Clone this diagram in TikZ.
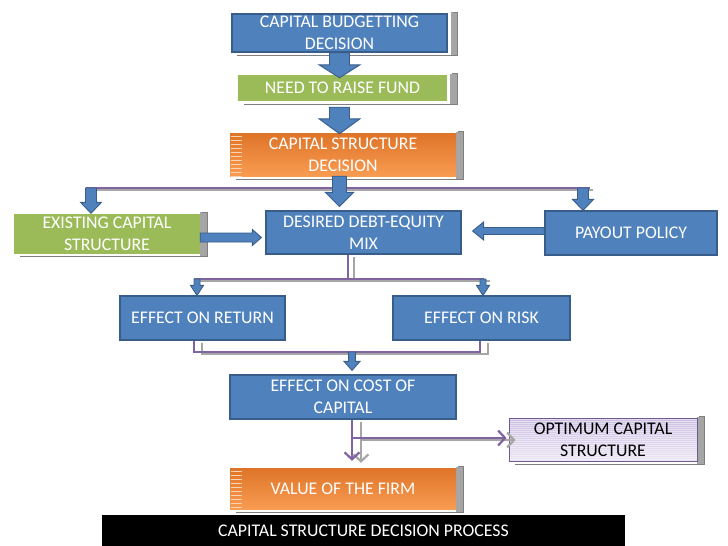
\documentclass[tikz,border=0pt]{standalone}
\usepackage{fontspec}
\setmainfont{Carlito}
\usetikzlibrary{arrows.meta,calc}
\pgfdeclarelayer{bg}
\pgfsetlayers{bg,main}
\definecolor{bfill}{HTML}{4F81BD}
\definecolor{bdraw}{HTML}{385D8A}
\definecolor{gfill}{HTML}{9BBB59}
\definecolor{otop}{HTML}{DE7428}
\definecolor{obot}{HTML}{F89C52}
\definecolor{lav}{HTML}{CCBFE3}
\definecolor{lavdraw}{HTML}{6E5A8C}
\definecolor{pline}{HTML}{8064A2}
\definecolor{gline}{HTML}{A6A6A6}
\definecolor{shfill}{HTML}{A5A5A5}
\definecolor{shdraw}{HTML}{7F7F7F}
\tikzset{
  box/.style={rectangle, inner sep=2pt, align=center, text=white,
    font=\fontsize{17.8}{22}\selectfont},
  bluebox/.style={box, fill=bfill, draw=bdraw, line width=1.2pt},
  greenbox/.style={box, fill=gfill},
  orangebox/.style={box, top color=otop, bottom color=obot,
    path picture={\foreach \k in {1,...,11}{\draw[obot!45!white, line width=0.9pt]
      ($(path picture bounding box.north west)+(0.5,\k*4-1)$) -- ++(11,0);}}},
  lavbox/.style={box, text=black, top color=lav, bottom color=lav!40!white,
    draw=lavdraw, line width=0.8pt,
    path picture={\foreach \k in {0,...,22}{\draw[white, opacity=.45, line width=.8pt]
      ($(path picture bounding box.north west)+(0,\k*2+1)$) -- ++(200,0);}}},
  banner/.style={box, fill=black},
  blkarrow/.style={fill=bfill, draw=bdraw, line width=0.9pt},
  purl/.style={draw=pline, line width=2.2pt},
  grayl/.style={draw=gline, line width=2.2pt},
  vtip/.style={-{Straight Barb[length=7pt,width=15pt,line width=2.2pt]}}
}
% block arrow pointing down: #1 start, #2 tip (y used), #3 half shaft, #4 half head, #5 head length
\newcommand\blkdown[5]{\filldraw[blkarrow] let \p1=#1, \p2=#2 in
  ({\x1-#3},{\y1}) -- ({\x1-#3},{\y2+#5}) -- ({\x1-#4},{\y2+#5}) -- ({\x1},{\y2}) --
  ({\x1+#4},{\y2+#5}) -- ({\x1+#3},{\y2+#5}) -- ({\x1+#3},{\y1}) -- cycle;}
% horizontal block arrow: #5 signed head length (positive = to the right)
\newcommand\blkh[5]{\filldraw[blkarrow] let \p1=#1, \p2=#2 in
  ({\x1},{\y1+#3}) -- ({\x2-(#5)},{\y1+#3}) -- ({\x2-(#5)},{\y1+#4}) -- ({\x2},{\y1}) --
  ({\x2-(#5)},{\y1-#4}) -- ({\x2-(#5)},{\y1-#3}) -- ({\x1},{\y1-#3}) -- cycle;}
% purple line with grey shadow line: #1 xshift, #2 yshift, #3 options, #4 path
\newcommand\duoline[4]{\draw[grayl, #3, transform canvas={xshift=#1,yshift=#2}] #4;
  \draw[purl, #3] #4;}
% grey 3d shadow at right/bottom of a box: #1 gap, #2 node
\newcommand\boxshadow[2]{%
  \fill[shfill] ([xshift=#1,yshift=1pt]#2.north east) rectangle ([xshift=#1+7pt,yshift=-3pt]#2.south east);
  \draw[shdraw, line width=0.9pt] ([xshift=6pt,yshift=-3pt]#2.south west) -- ([xshift=#1+7pt,yshift=-3pt]#2.south east)
    -- ([xshift=#1+7pt,yshift=1pt]#2.north east) -- ([xshift=#1+2pt,yshift=1pt]#2.north east);}
\begin{document}
\begin{tikzpicture}[x=1pt,y=-1pt]
\useasboundingbox (0,0) rectangle (728,546);

% nodes
\node[bluebox, minimum width=215, minimum height=38] (cbd) at (339.5,33) {CAPITAL BUDGETTING\\DECISION};
\node[greenbox, minimum width=209, minimum height=26] (nrf) at (342.5,88) {NEED TO RAISE FUND};
\node[orangebox, minimum width=226, minimum height=43] (csd) at (343,154.5) {CAPITAL STRUCTURE\\DECISION};
\node[greenbox, minimum width=186, minimum height=40] (ecs) at (107,233.5) {EXISTING CAPITAL\\STRUCTURE};
\node[bluebox, minimum width=195, minimum height=43] (dde) at (363.5,232.5) {DESIRED DEBT-EQUITY\\MIX};
\node[bluebox, minimum width=172, minimum height=44] (pp) at (631,233) {PAYOUT POLICY};
\node[bluebox, minimum width=165, minimum height=44] (eor) at (202.5,318) {EFFECT ON RETURN};
\node[bluebox, minimum width=177, minimum height=44] (erisk) at (481.5,318) {EFFECT ON RISK};
\node[bluebox, minimum width=226, minimum height=44] (ecc) at (343,397) {EFFECT ON COST OF\\CAPITAL};
\node[lavbox, minimum width=188, minimum height=43] (ocs) at (603,439.5) {OPTIMUM CAPITAL\\STRUCTURE};
\node[orangebox, minimum width=226, minimum height=41] (vof) at (343,488.5) {VALUE OF THE FIRM};
\node[banner, minimum width=523, minimum height=31] (ban) at (363.5,530.5) {CAPITAL STRUCTURE DECISION PROCESS};

\begin{pgfonlayer}{bg}
\boxshadow{3pt}{cbd}
\boxshadow{3pt}{nrf}
\boxshadow{0pt}{csd}
\boxshadow{0pt}{ecs}
\boxshadow{0pt}{ocs}
\boxshadow{0pt}{vof}
\end{pgfonlayer}

% junction coordinates
\coordinate (splitL) at (91,188);
\coordinate (splitR) at (583,188);
\coordinate (a2) at ($(nrf.south -| cbd.south)+(0,6)$);
\coordinate (a3) at (csd.south -| cbd.south);
\coordinate (ddout) at ([xshift=-15.5pt]dde.south);
\coordinate (jl) at (197,279);
\coordinate (jr) at (483,279);
\coordinate (rl) at ([xshift=-8.5pt]eor.south);
\coordinate (rr) at ([xshift=-1.5pt]erisk.south);
\coordinate (mid) at (352,352);
\coordinate (cout) at ([xshift=9pt]ecc.south);
\coordinate (cbr) at (352,438);

% purple / grey connector lines
\duoline{3pt}{-2pt}{}{([xshift=-5pt]splitL) -- ([xshift=7pt]splitR)}
\duoline{6pt}{-2pt}{}{(ddout) -- (ddout |- jl) (jl) ++(-3,0) -- ([xshift=1pt]jr)}
\duoline{8pt}{-2pt}{}{(rl) -- (rl |- mid) -- (rr |- mid) -- (rr)}
\duoline{9pt}{-2pt}{vtip}{(cout) -- ([yshift=7pt]vof.north -| cout)}
\duoline{9pt}{-2pt}{vtip}{(cbr) -- ([xshift=-2pt]ocs.west |- cbr)}

% block arrows
\blkdown{(cbd.south)}{([yshift=-3pt]nrf.north)}{10pt}{20.5pt}{13pt}
\blkdown{(a2)}{([yshift=-1pt]csd.north)}{10pt}{20.5pt}{15pt}
\blkdown{(a3)}{([yshift=4pt]dde.north)}{7pt}{14pt}{14pt}
\blkdown{(splitL)}{(ecs.north)}{5.5pt}{10.5pt}{11pt}
\blkdown{(splitR)}{(pp.north)}{5.5pt}{10.5pt}{11pt}
\blkh{([yshift=-4pt]ecs.east)}{([xshift=-4pt]dde.west)}{4.5pt}{8pt}{9pt}
\blkh{([yshift=2pt]pp.west)}{([xshift=11pt]dde.east)}{3.5pt}{9pt}{-11pt}
\blkdown{(jl)}{(eor.north)}{3pt}{6.5pt}{10pt}
\blkdown{(jr)}{(erisk.north)}{3pt}{6.5pt}{10pt}
\blkdown{(mid)}{([yshift=4pt]ecc.north)}{3.5pt}{8pt}{9pt}
\end{tikzpicture}
\end{document}
